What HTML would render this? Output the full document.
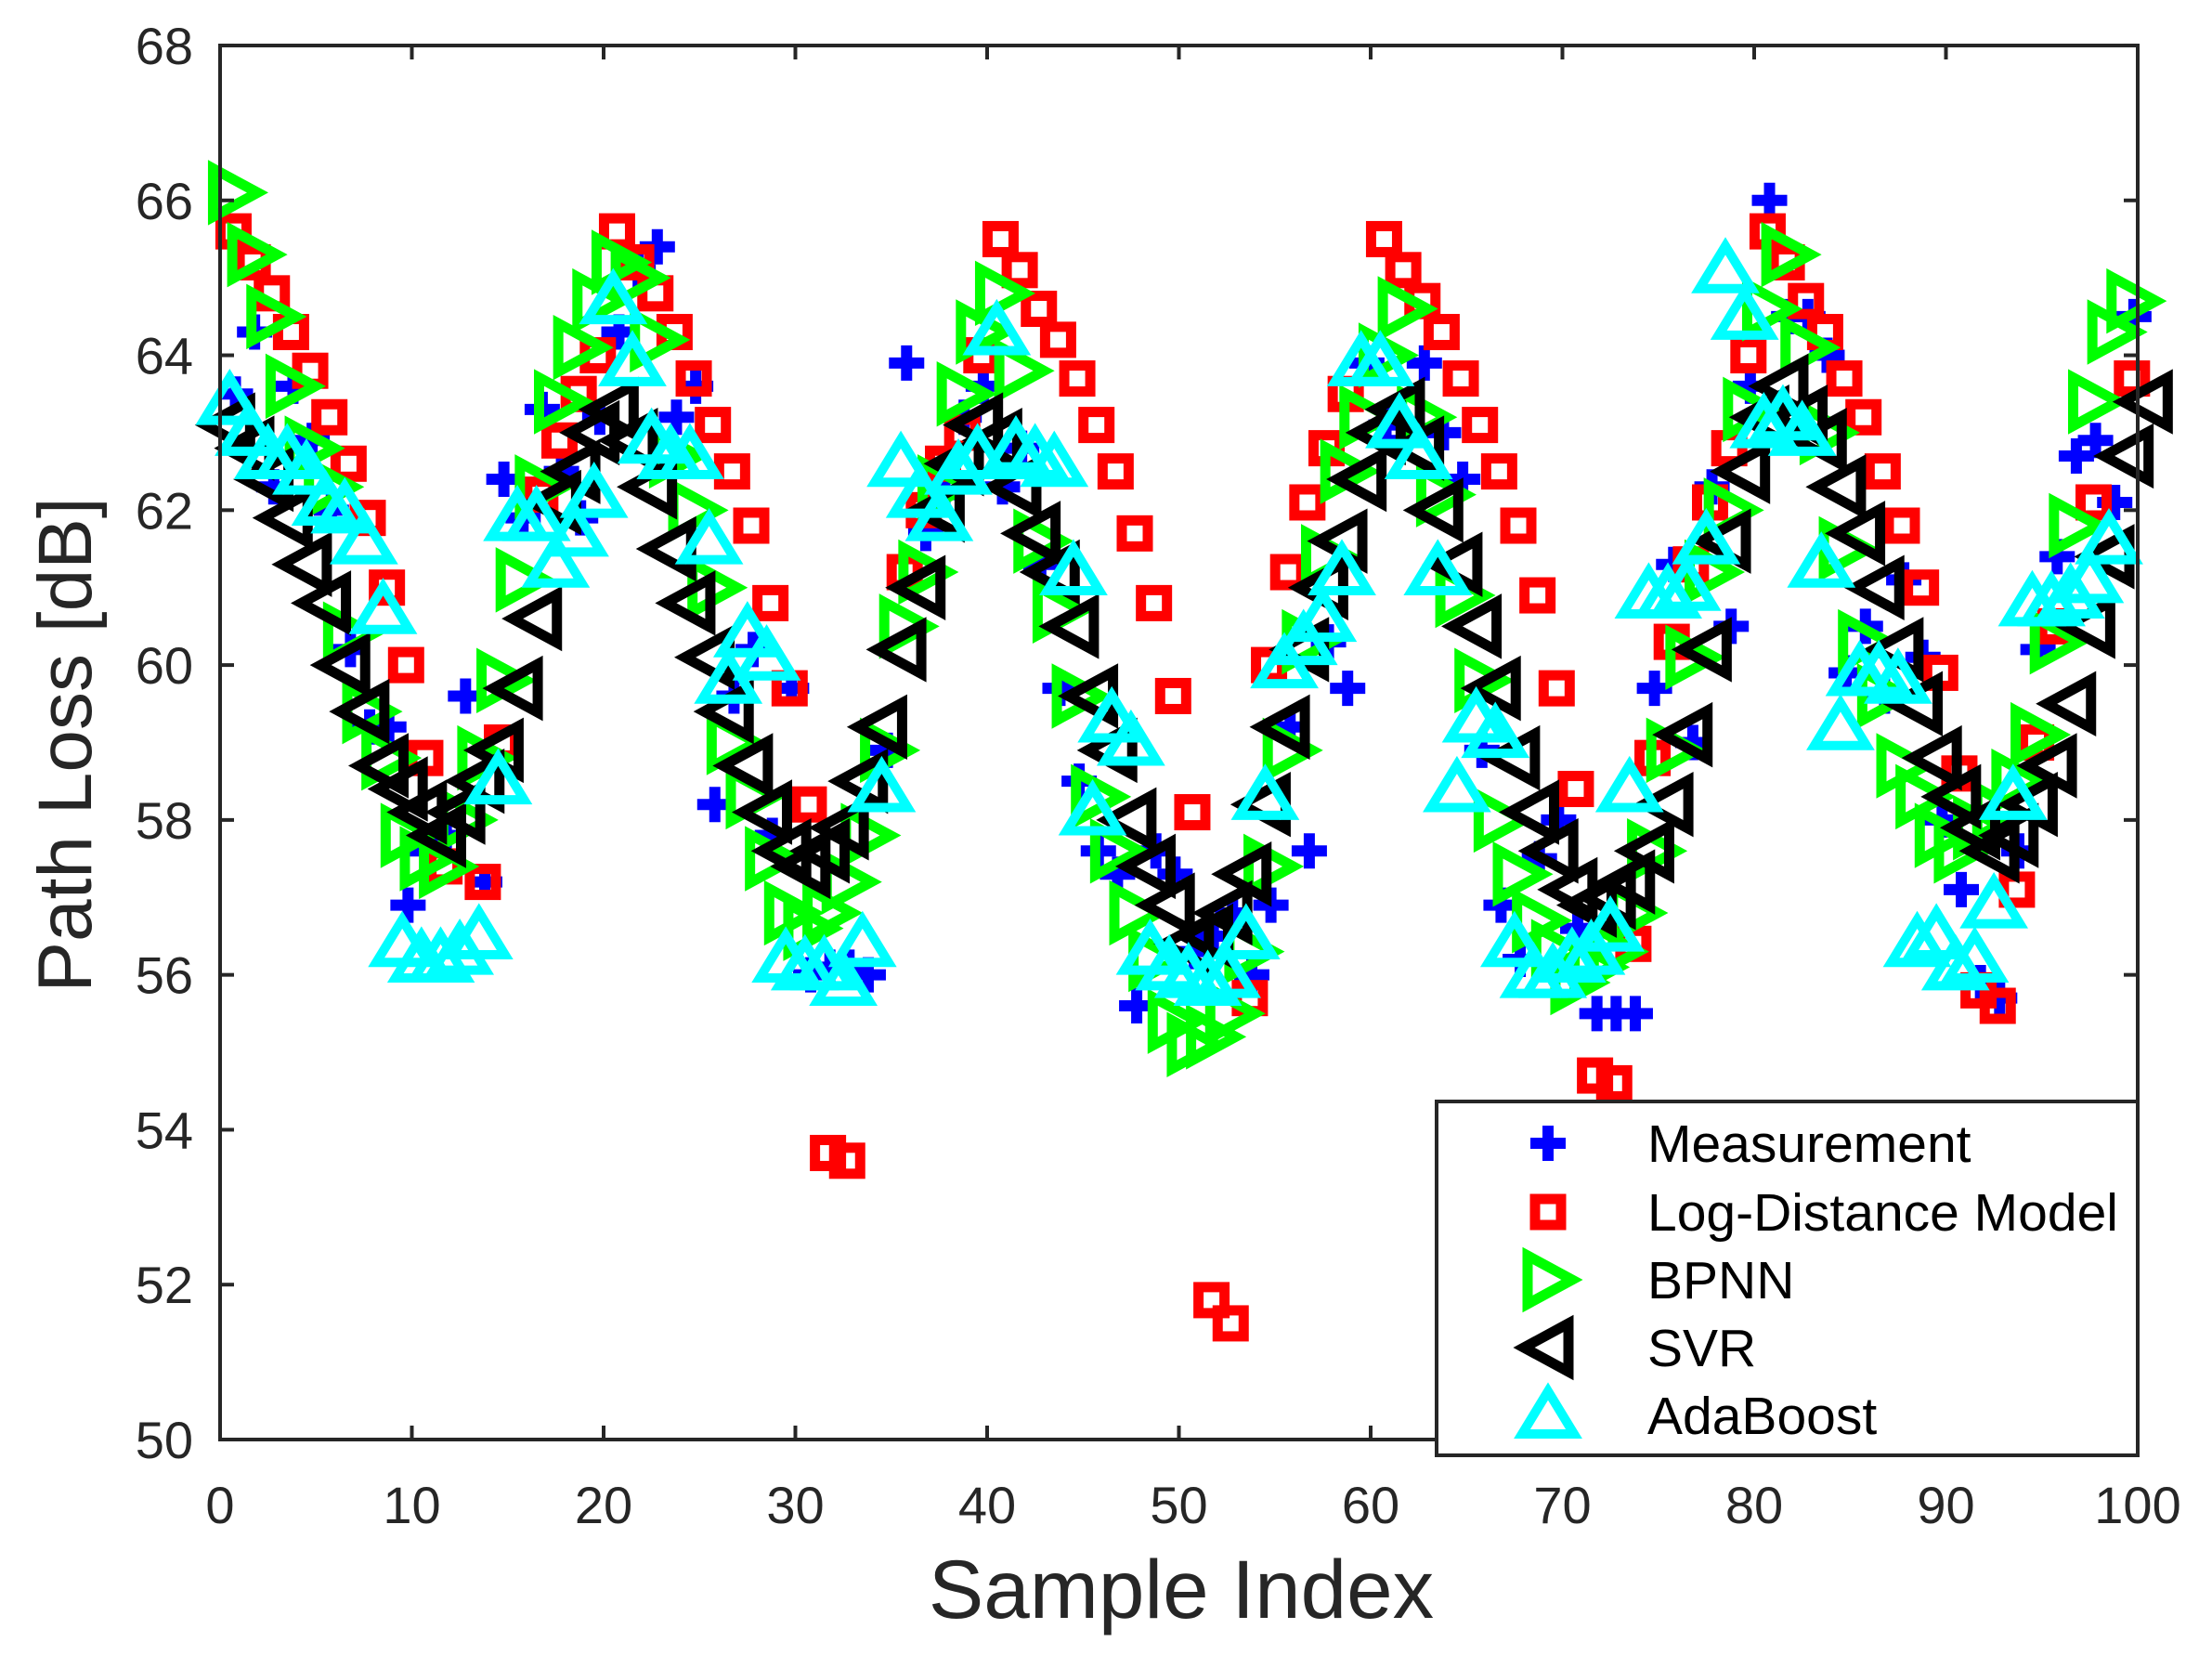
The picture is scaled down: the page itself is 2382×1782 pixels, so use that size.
<!DOCTYPE html>
<html><head><meta charset="utf-8"><style>
html,body{margin:0;padding:0;background:#fff;}
svg{display:block;}
text{font-family:"Liberation Sans",Arial,sans-serif;}
</style></head><body>
<svg id="s" width="2382" height="1782" viewBox="0 0 2382 1782" xmlns="http://www.w3.org/2000/svg">
<rect width="2382" height="1782" fill="#fff"/>
<g id="data"></g>
<g id="axes" fill="none" stroke="#262626" stroke-width="4">
<rect x="237" y="49" width="2065" height="1501"/>
</g>
<g id="ticks" stroke="#262626" stroke-width="4"></g>
<g id="labels" fill="#262626" font-size="56"></g>
<text x="1272" y="1742" font-size="89" fill="#262626" text-anchor="middle">Sample Index</text>
<text transform="translate(98,802) rotate(-90)" font-size="82" fill="#262626" text-anchor="middle">Path Loss [dB]</text>
<g id="legend"></g>
</svg>
<script>
var NS="http://www.w3.org/2000/svg";
function el(p,t,a,txt){var e=document.createElementNS(NS,t);for(var k in a)e.setAttribute(k,a[k]);if(txt!==undefined)e.textContent=txt;p.appendChild(e);return e;}
function px(x){return 237+x*20.65;}
function py(y){return 1550-(y-50)*83.39;}
var T=document.getElementById('ticks'),L=document.getElementById('labels');
for(var v=50;v<=68;v+=2){var y=py(v);el(T,'line',{x1:237,y1:y,x2:252,y2:y});el(T,'line',{x1:2302,y1:y,x2:2287,y2:y});
el(L,'text',{x:208,y:y+20,'text-anchor':'end'},v);}
for(var v=0;v<=100;v+=10){var x=px(v);el(T,'line',{x1:x,y1:1550,x2:x,y2:1535});el(T,'line',{x1:x,y1:49,x2:x,y2:64});
el(L,'text',{x:x,y:1640,'text-anchor':'middle'},v);}
function plus(g,x,y){el(g,'path',{d:'M'+(x-19)+' '+y+'h38M'+x+' '+(y-19)+'v38',stroke:'#0000ff','stroke-width':12,fill:'none'});}
function sq(g,x,y){el(g,'rect',{x:x-14,y:y-14,width:28,height:28,stroke:'#ff0000','stroke-width':11,fill:'none'});}
function tr(g,x,y){el(g,'path',{d:'M'+(x-22)+' '+(y-26)+'L'+(x+26)+' '+y+'L'+(x-22)+' '+(y+26)+'Z',stroke:'#00ff00','stroke-width':11,fill:'none'});}
function tl(g,x,y){el(g,'path',{d:'M'+(x+22)+' '+(y-26)+'L'+(x-26)+' '+y+'L'+(x+22)+' '+(y+26)+'Z',stroke:'#000','stroke-width':11,fill:'none'});}
function tu(g,x,y){el(g,'path',{d:'M'+x+' '+(y-26)+'L'+(x+28)+' '+(y+20)+'L'+(x-28)+' '+(y+20)+'Z',stroke:'#00ffff','stroke-width':10,fill:'none'});}
var meas=[63.5,64.3,62.3,63.6,62.9,62.0,60.2,59.2,59.2,56.9,57.6,57.8,59.6,57.2,62.4,61.9,63.3,62.5,61.9,63.2,64.3,65.1,65.4,63.2,63.6,58.2,59.6,60.2,57.8,59.7,56.0,56.1,56.1,56.0,58.9,63.9,61.7,62.2,63.2,63.6,62.3,62.8,61.3,59.7,58.5,57.6,57.3,55.6,57.6,57.3,56.3,56.5,56.8,56.0,56.9,59.2,57.6,60.3,59.7,63.9,63.1,62.9,63.9,63.0,62.4,58.9,56.9,56.2,57.5,58.0,56.6,55.5,55.5,55.5,59.7,61.3,59.0,62.3,60.5,63.6,66.0,64.5,64.5,64.0,59.9,60.5,59.6,61.1,60.1,58.0,57.1,55.9,55.7,57.6,60.2,61.4,62.7,62.9,62.1,64.5];
var logd=[65.6,65.2,64.8,64.3,63.8,63.2,62.6,61.9,61.0,60.0,58.8,57.4,null,57.2,59.0,null,62.2,62.9,63.5,64.0,65.6,65.2,64.8,64.3,63.7,63.1,62.5,61.8,60.8,59.7,58.2,53.7,53.6,null,null,61.2,62.0,62.6,63.0,64.0,65.5,65.1,64.6,64.2,63.7,63.1,62.5,61.7,60.8,59.6,58.1,51.8,51.5,55.7,60.0,61.2,62.1,62.8,63.5,null,65.5,65.1,64.7,64.3,63.7,63.1,62.5,61.8,60.9,59.7,58.4,54.7,54.6,56.4,58.8,60.3,61.3,62.1,62.8,64.0,65.6,65.2,64.7,64.3,63.7,63.2,62.5,61.8,61.0,59.9,58.6,55.8,55.6,57.1,59.0,60.5,null,62.1,null,63.7];
var bp=[66.1,65.3,64.5,63.6,62.8,62.3,60.4,59.4,58.8,57.8,57.5,57.4,58.0,58.8,59.8,61.1,62.3,63.4,64.1,64.7,65.2,65.0,64.2,62.7,62.0,61.0,59.0,58.3,57.5,56.8,56.6,56.8,57.2,57.8,58.9,60.5,61.2,62.3,63.5,64.3,64.8,63.8,61.6,60.7,59.6,58.3,57.6,56.8,56.2,55.4,55.1,55.2,55.5,56.3,57.4,58.9,60.3,61.4,62.5,63.2,64.0,64.6,63.2,62.2,60.9,59.8,58.0,57.3,56.7,56.3,55.9,56.1,56.3,56.8,57.6,58.9,60.1,61.2,62.0,63.3,64.6,65.3,64.1,63.0,61.5,60.3,59.6,58.7,58.3,57.8,57.6,57.9,58.1,58.5,59.1,60.3,61.8,63.4,64.3,64.7];
var svr=[63.1,62.8,62.4,61.9,61.3,60.8,60.0,59.4,58.7,58.4,58.1,57.8,58.1,58.5,58.9,59.7,60.6,62.1,62.5,63.0,63.3,62.9,62.3,61.5,60.8,60.1,59.4,58.7,58.1,57.6,57.4,57.6,57.9,58.5,59.2,60.2,61.0,62.0,62.6,63.1,62.9,62.3,61.7,61.2,60.5,59.6,58.9,58.0,57.4,56.9,56.4,56.5,56.8,57.3,58.2,59.2,60.2,61.0,61.6,62.4,63.0,63.3,62.8,62.0,61.3,60.5,59.7,58.8,58.1,57.6,57.1,56.9,57.0,57.2,57.6,58.2,59.1,60.2,61.6,62.5,63.2,63.6,63.2,62.9,62.3,61.7,61.0,60.2,59.5,58.8,58.3,57.9,57.6,57.8,58.2,58.7,59.5,60.5,61.4,62.7,63.4];
var ada=[63.4,63.0,62.7,62.7,62.5,62.1,62.0,61.6,60.7,56.4,56.2,56.2,56.3,56.5,58.5,61.9,61.9,61.3,61.7,62.2,64.7,63.9,62.9,62.7,62.7,61.6,59.8,60.4,60.1,56.2,56.1,56.1,55.9,56.4,58.4,62.6,62.2,61.9,62.5,62.7,64.3,62.8,62.7,62.6,61.2,58.1,59.3,59.0,56.3,56.1,56.0,55.9,56.0,56.5,58.3,60.0,60.3,60.6,61.2,63.9,63.9,63.1,62.7,61.2,58.4,59.3,59.1,56.4,56.0,56.0,56.2,56.3,56.6,58.4,60.9,60.9,61.0,61.6,65.1,64.5,63.1,63.2,63.0,61.3,59.2,59.9,59.9,59.8,56.4,56.5,56.1,56.2,56.9,58.3,60.8,60.8,60.9,61.1,61.6];
var D=document.getElementById('data');
function draw(arr,f,off){for(var i=0;i<arr.length;i++){if(arr[i]==null)continue;f(D,px(i+off),py(arr[i]));}}
draw(meas,plus,0.8);draw(logd,sq,0.7);draw(bp,tr,0.7);draw(svr,tl,0.5);draw(ada,tu,0.5);
var G=document.getElementById('legend');
el(G,'rect',{x:1547,y:1186,width:755,height:381,fill:'#fff',stroke:'#262626','stroke-width':4});
var ys=[1231,1305,1378,1451,1524],names=['Measurement','Log-Distance Model','BPNN','SVR','AdaBoost'],fs=[plus,sq,tr,tl,tu];
for(var i=0;i<5;i++){fs[i](G,1667,ys[i]);el(G,'text',{x:1774,y:ys[i]+20,'font-size':57,fill:'#000'},names[i]);}
</script>
</body></html>
